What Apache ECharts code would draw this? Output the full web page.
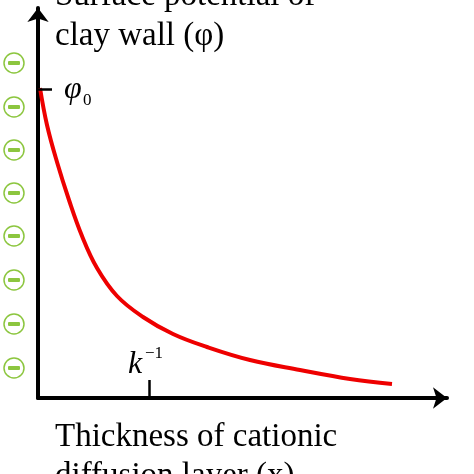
<!DOCTYPE html>
<html><head><meta charset="utf-8">
<script src="https://cdn.jsdelivr.net/npm/echarts@6/dist/echarts.min.js"></script>
<style>html,body{margin:0;padding:0;background:#fff}#c{width:474px;height:474px}</style>
</head><body><div id="c"></div>
<script>
// curve (x: thickness, y: potential)
var curveX = [2, 9, 19, 31, 44, 59, 79, 105, 135, 169, 212, 262, 312, 354];
var curveY = [310, 273, 236, 198, 162, 130, 102, 81, 64, 51, 38, 28, 19, 14];
var chargeY = [63, 107, 150, 193, 236, 280, 324, 368];

var chart = echarts.init(document.getElementById('c'));
var serif = 'Liberation Serif';
var pts = curveX.map(function (x, i) { return [x, curveY[i]]; });

var graphics = [];
chargeY.forEach(function (y) {
    graphics.push({ type: 'circle', shape: { cx: 14, cy: y, r: 10 }, style: { fill: '#fff', stroke: '#8cc63f', lineWidth: 1.5 } });
    graphics.push({ type: 'rect', shape: { x: 8, y: y - 2, width: 12, height: 4, r: 1 }, style: { fill: '#8cc63f' } });
});
graphics.push({ type: 'text', left: 55, top: -20, style: { text: 'Surface potential of', font: '33px ' + serif, fill: '#000' } });
graphics.push({ type: 'text', left: 55, top: 20, style: { text: 'clay wall (φ)', font: '33px ' + serif, fill: '#000' } });
graphics.push({ type: 'text', left: 55, top: 421, style: { text: 'Thickness of cationic', font: '33px ' + serif, fill: '#000' } });
graphics.push({ type: 'text', left: 55, top: 460, style: { text: 'diffusion layer (x)', font: '33px ' + serif, fill: '#000' } });
graphics.push({ type: 'text', left: 64, top: 74, style: { text: 'φ', font: 'italic 32px ' + serif, fill: '#000' } });
graphics.push({ type: 'text', left: 83, top: 92, style: { text: '0', font: '17px ' + serif, fill: '#000' } });
graphics.push({ type: 'text', left: 128, top: 349, style: { text: 'k', font: 'italic 32px ' + serif, fill: '#000' } });
graphics.push({ type: 'text', left: 145, top: 345, style: { text: '−1', font: '17px ' + serif, fill: '#000' } });

chart.setOption({
    animation: false,
    grid: { left: 38, right: 27, top: 8, bottom: 76 },
    xAxis: {
        type: 'value', min: 0, max: 409,
        axisLine: { lineStyle: { color: '#000', width: 4 }, symbol: ['none', 'arrow'], symbolSize: [16, 14] },
        axisTick: { show: false }, axisLabel: { show: false }, splitLine: { show: false }
    },
    yAxis: {
        type: 'value', min: 0, max: 390,
        axisLine: { lineStyle: { color: '#000', width: 4 }, symbol: ['none', 'arrow'], symbolSize: [16, 14] },
        axisTick: { show: false }, axisLabel: { show: false }, splitLine: { show: false }
    },
    series: [{
        type: 'line', data: pts, smooth: 0.4, showSymbol: false,
        lineStyle: { color: '#ee0000', width: 4 },
        markLine: {
            silent: true, symbol: 'none', label: { show: false },
            lineStyle: { color: '#000', width: 2.5, type: 'solid' },
            data: [
                [{ coord: [0, 309] }, { coord: [14, 309] }],
                [{ coord: [111, 0] }, { coord: [111, 18] }]
            ]
        }
    }],
    graphic: graphics
});
</script></body></html>
